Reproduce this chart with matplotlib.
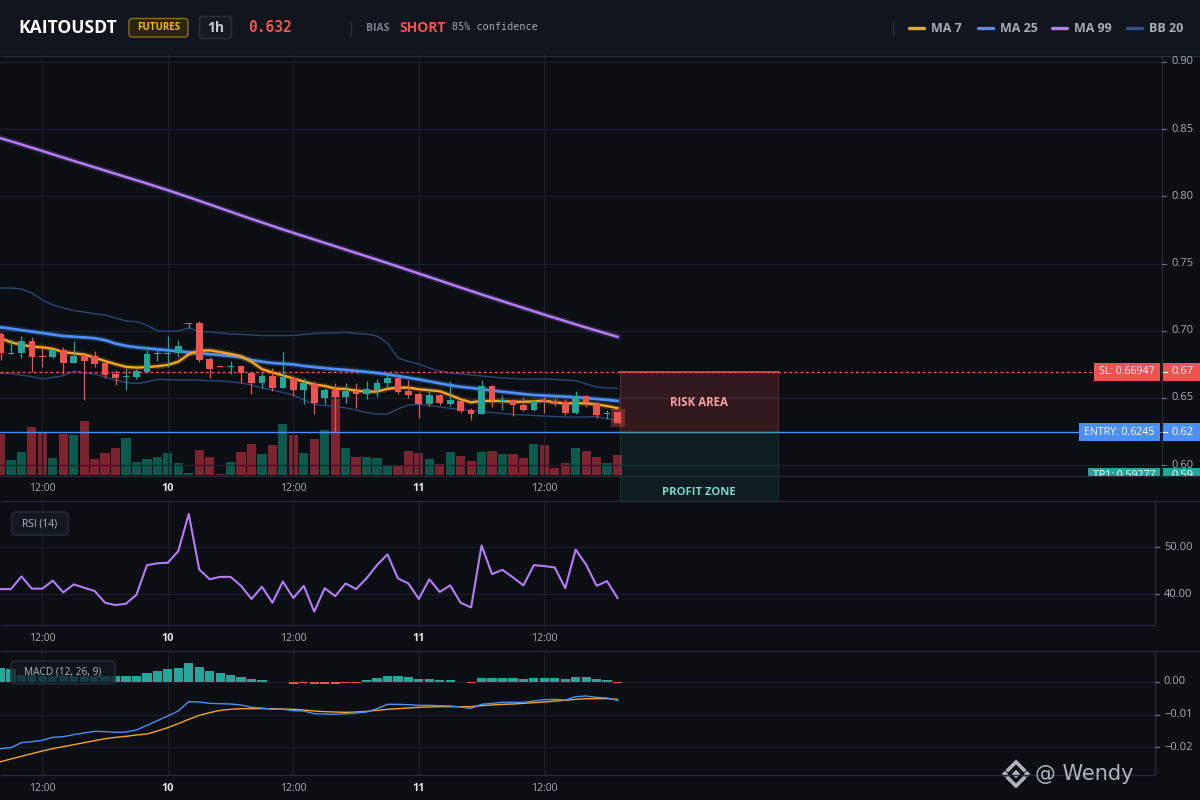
import matplotlib
matplotlib.use("Agg")
import matplotlib.pyplot as plt
import matplotlib.patheffects as pe
import matplotlib.transforms as mtransforms
from matplotlib.patches import Rectangle, FancyBboxPatch, Polygon
import numpy as np

# ---------------- data ----------------
symbol = "KAITOUSDT"
market = "FUTURES"
interval = "1h"
last_price = 0.632
bias = "SHORT"
confidence = 85

opens = [0.6976, 0.6830, 0.6837, 0.6924, 0.6812, 0.6808, 0.6857, 0.6763, 0.6815, 0.6810,
         0.6763, 0.6679, 0.6656, 0.6656, 0.6696, 0.6825, 0.6830, 0.6832, 0.7053, 0.7058,
         0.6790, 0.6738, 0.6731, 0.6738, 0.6689, 0.6614, 0.6664, 0.6577, 0.6646, 0.6562,
         0.6607, 0.6503, 0.6560, 0.6510, 0.6552, 0.6528, 0.6560, 0.6612, 0.6649, 0.6552,
         0.6530, 0.6455, 0.6522, 0.6453, 0.6480, 0.6411, 0.6384, 0.6589, 0.6475, 0.6485,
         0.6448, 0.6411, 0.6480, 0.6478, 0.6468, 0.6391, 0.6515, 0.6458, 0.6381, 0.6394]
highs = [0.6989, 0.6939, 0.6961, 0.6954, 0.6877, 0.6862, 0.6877, 0.6924, 0.6832, 0.6850,
         0.6770, 0.6706, 0.6726, 0.6713, 0.6857, 0.6870, 0.6961, 0.6934, 0.7061, 0.7073,
         0.6805, 0.6741, 0.6775, 0.6746, 0.6696, 0.6689, 0.6721, 0.6840, 0.6656, 0.6646,
         0.6627, 0.6577, 0.6609, 0.6609, 0.6609, 0.6627, 0.6639, 0.6671, 0.6659, 0.6634,
         0.6542, 0.6572, 0.6532, 0.6627, 0.6493, 0.6428, 0.6634, 0.6597, 0.6523, 0.6493,
         0.6510, 0.6485, 0.6510, 0.6498, 0.6493, 0.6552, 0.6522, 0.6468, 0.6411, 0.6399]
lows = [0.6783, 0.6825, 0.6800, 0.6696, 0.6733, 0.6795, 0.6676, 0.6758, 0.6488, 0.6731,
        0.6651, 0.6599, 0.6562, 0.6639, 0.6684, 0.6778, 0.6733, 0.6808, 0.7018, 0.6770,
        0.6651, 0.6728, 0.6681, 0.6612, 0.6532, 0.6572, 0.6552, 0.6572, 0.6515, 0.6453,
        0.6378, 0.6453, 0.6250, 0.6465, 0.6428, 0.6490, 0.6510, 0.6572, 0.6530, 0.6498,
        0.6354, 0.6443, 0.6448, 0.6441, 0.6391, 0.6336, 0.6381, 0.6436, 0.6411, 0.6369,
        0.6406, 0.6403, 0.6391, 0.6441, 0.6374, 0.6384, 0.6436, 0.6354, 0.6341, 0.6312]
closes = [0.6837, 0.6832, 0.6924, 0.6808, 0.6808, 0.6855, 0.6763, 0.6813, 0.6778, 0.6753,
          0.6671, 0.6651, 0.6661, 0.6701, 0.6825, 0.6837, 0.6835, 0.6884, 0.7058, 0.6783,
          0.6718, 0.6733, 0.6736, 0.6689, 0.6614, 0.6664, 0.6577, 0.6656, 0.6562, 0.6612,
          0.6465, 0.6560, 0.6510, 0.6555, 0.6528, 0.6567, 0.6612, 0.6649, 0.6547, 0.6522,
          0.6455, 0.6522, 0.6460, 0.6485, 0.6406, 0.6384, 0.6589, 0.6485, 0.6480, 0.6448,
          0.6411, 0.6478, 0.6475, 0.6458, 0.6391, 0.6515, 0.6468, 0.6374, 0.6386, 0.6317]
volumes = [123, 45, 69, 144, 128, 51, 123, 120, 162, 48,
           66, 81, 111, 39, 48, 54, 66, 36, 6, 75,
           54, 3, 39, 69, 93, 63, 90, 153, 120, 66,
           108, 135, 252, 81, 54, 54, 51, 30, 30, 72,
           66, 48, 33, 69, 57, 42, 69, 72, 63, 63,
           51, 93, 90, 21, 36, 81, 72, 54, 36, 60]
ma7 = [0.6944, 0.6915, 0.6895, 0.6883, 0.6877, 0.6866, 0.6842, 0.6832, 0.6824, 0.6800,
       0.6775, 0.6752, 0.6732, 0.6726, 0.6730, 0.6736, 0.6746, 0.6770, 0.6825, 0.6852,
       0.6855, 0.6842, 0.6828, 0.6810, 0.6770, 0.6715, 0.6690, 0.6668, 0.6645, 0.6622,
       0.6600, 0.6590, 0.6570, 0.6567, 0.6555, 0.6547, 0.6548, 0.6568, 0.6577, 0.6577,
       0.6565, 0.6558, 0.6550, 0.6522, 0.6490, 0.6468, 0.6478, 0.6478, 0.6478, 0.6472,
       0.6472, 0.6475, 0.6480, 0.6468, 0.6460, 0.6462, 0.6460, 0.6453, 0.6440, 0.6425]
ma25 = [0.7026, 0.7016, 0.7005, 0.6994, 0.6984, 0.6972, 0.6961, 0.6956, 0.6951, 0.6945,
        0.6930, 0.6905, 0.6888, 0.6877, 0.6870, 0.6862, 0.6855, 0.6848, 0.6840, 0.6832,
        0.6826, 0.6820, 0.6812, 0.6803, 0.6782, 0.6770, 0.6760, 0.6755, 0.6750, 0.6738,
        0.6730, 0.6722, 0.6715, 0.6709, 0.6702, 0.6694, 0.6686, 0.6675, 0.6663, 0.6651,
        0.6638, 0.6624, 0.6609, 0.6595, 0.6583, 0.6575, 0.6565, 0.6555, 0.6547, 0.6538,
        0.6530, 0.6522, 0.6518, 0.6514, 0.6510, 0.6505, 0.6499, 0.6493, 0.6486, 0.6478]
ma99 = [0.8433, 0.8410, 0.8386, 0.8362, 0.8338, 0.8313, 0.8289, 0.8264, 0.8240, 0.8216,
        0.8192, 0.8168, 0.8144, 0.8120, 0.8096, 0.8071, 0.8046, 0.8020, 0.7994, 0.7967,
        0.7940, 0.7913, 0.7886, 0.7859, 0.7832, 0.7806, 0.7780, 0.7754, 0.7729, 0.7704,
        0.7679, 0.7654, 0.7629, 0.7604, 0.7579, 0.7554, 0.7529, 0.7504, 0.7478, 0.7452,
        0.7426, 0.7400, 0.7374, 0.7348, 0.7322, 0.7296, 0.7270, 0.7245, 0.7220, 0.7195,
        0.7170, 0.7145, 0.7120, 0.7096, 0.7072, 0.7048, 0.7024, 0.7001, 0.6978, 0.6955]
bb_upper = [0.7318, 0.7318, 0.7311, 0.7281, 0.7229, 0.7192, 0.7170, 0.7150, 0.7140, 0.7125,
            0.7118, 0.7095, 0.7073, 0.7068, 0.7043, 0.6999, 0.6995, 0.6999, 0.7021, 0.6995,
            0.6991, 0.6984, 0.6976, 0.6973, 0.6969, 0.6964, 0.6964, 0.6964, 0.6964, 0.6973,
            0.6980, 0.6984, 0.6984, 0.6989, 0.6980, 0.6976, 0.6961, 0.6909, 0.6798, 0.6772,
            0.6753, 0.6723, 0.6701, 0.6686, 0.6679, 0.6671, 0.6664, 0.6656, 0.6649, 0.6645,
            0.6641, 0.6641, 0.6641, 0.6638, 0.6634, 0.6629, 0.6604, 0.6582, 0.6574, 0.6572]
bb_lower = [0.6684, 0.6682, 0.6669, 0.6660, 0.6641, 0.6653, 0.6666, 0.6701, 0.6686, 0.6679,
            0.6656, 0.6634, 0.6615, 0.6608, 0.6619, 0.6639, 0.6636, 0.6634, 0.6634, 0.6632,
            0.6629, 0.6627, 0.6621, 0.6612, 0.6597, 0.6574, 0.6560, 0.6541, 0.6522, 0.6485,
            0.6455, 0.6444, 0.6437, 0.6426, 0.6411, 0.6392, 0.6381, 0.6381, 0.6418, 0.6448,
            0.6452, 0.6444, 0.6433, 0.6423, 0.6414, 0.6407, 0.6400, 0.6392, 0.6385, 0.6377,
            0.6374, 0.6370, 0.6366, 0.6362, 0.6359, 0.6357, 0.6359, 0.6361, 0.6347, 0.6331]
rsi = [41.1, 41.1, 43.8, 41.2, 41.2, 42.9, 40.4, 42.1, 41.4, 40.7,
       38.2, 37.7, 38.0, 39.9, 46.2, 46.6, 46.7, 49.2, 57.1, 45.3,
       43.2, 43.7, 43.7, 41.8, 39.0, 41.6, 38.2, 42.7, 39.2, 41.8,
       36.3, 41.3, 39.6, 42.3, 41.1, 43.4, 46.2, 48.5, 43.4, 42.3,
       39.0, 43.2, 40.5, 41.9, 38.2, 37.2, 50.4, 44.3, 45.2, 43.6,
       41.9, 46.2, 46.0, 45.7, 41.3, 49.5, 46.3, 41.8, 42.8, 39.2]
macd_line = [-0.02043, -0.02011, -0.01859, -0.01828, -0.01788, -0.01696, -0.01676, -0.01615, -0.01564, -0.01513,
             -0.01523, -0.01544, -0.01534, -0.01473, -0.01330, -0.01188, -0.01046, -0.00893, -0.00609, -0.00619,
             -0.00660, -0.00670, -0.00680, -0.00710, -0.00781, -0.00802, -0.00842, -0.00842, -0.00883, -0.00893,
             -0.00975, -0.00985, -0.00995, -0.00975, -0.00954, -0.00924, -0.00822, -0.00690, -0.00690, -0.00700,
             -0.00721, -0.00721, -0.00731, -0.00741, -0.00771, -0.00812, -0.00690, -0.00660, -0.00629, -0.00629,
             -0.00629, -0.00588, -0.00548, -0.00538, -0.00558, -0.00456, -0.00436, -0.00477, -0.00497, -0.00568]
macd_signal = [-0.02438, -0.02357, -0.02275, -0.02194, -0.02113, -0.02042, -0.01981, -0.01920, -0.01859, -0.01798,
               -0.01737, -0.01697, -0.01666, -0.01625, -0.01595, -0.01503, -0.01401, -0.01279, -0.01147, -0.01025,
               -0.00944, -0.00873, -0.00842, -0.00822, -0.00822, -0.00822, -0.00822, -0.00832, -0.00842, -0.00863,
               -0.00893, -0.00913, -0.00924, -0.00934, -0.00924, -0.00903, -0.00873, -0.00842, -0.00822, -0.00802,
               -0.00781, -0.00771, -0.00761, -0.00761, -0.00761, -0.00761, -0.00731, -0.00710, -0.00690, -0.00680,
               -0.00660, -0.00639, -0.00619, -0.00589, -0.00568, -0.00538, -0.00517, -0.00517, -0.00517, -0.00538]
macd_hist = [0.00407, 0.00386, 0.00200, 0.00190, 0.00180, 0.00170, 0.00165, 0.00160, 0.00160, 0.00160,
             0.00160, 0.00163, 0.00163, 0.00183, 0.00264, 0.00325, 0.00386, 0.00427, 0.00569, 0.00457,
             0.00335, 0.00264, 0.00203, 0.00142, 0.00071, 0.00061, -0.00020, -0.00020, -0.00081, -0.00041,
             -0.00081, -0.00061, -0.00061, -0.00041, -0.00030, 0.00041, 0.00112, 0.00173, 0.00173, 0.00142,
             0.00081, 0.00081, 0.00051, 0.00051, -0.00015, -0.00030, 0.00112, 0.00112, 0.00112, 0.00112,
             0.00081, 0.00112, 0.00112, 0.00112, 0.00081, 0.00142, 0.00142, 0.00081, 0.00051, -0.00030]

time_tick_idx = [4, 16, 28, 40, 52]
time_tick_labels = ["12:00", "10", "12:00", "11", "12:00"]
price_ticks = [0.60, 0.65, 0.70, 0.75, 0.80, 0.85, 0.90]
rsi_ticks = [40, 50]
macd_ticks = [0.0, -0.01, -0.02]

sl_price = 0.66947
entry_price = 0.6245
tp1_price = 0.59277

legend_names = ["MA 7", "MA 25", "MA 99", "BB 20"]

# ---------------- style ----------------
BG = "#0b0e13"
HEADER_BG = "#11151d"
GRID = "#1a202b"
BORDER = "#252c38"
UP = "#26a69a"
DN = "#ef5350"
VOL_UP = "#0d5a4c"
VOL_DN = "#7e2330"
C_MA7 = "#f5a524"
C_MA25 = "#4d8ff5"
C_MA99 = "#b57cf6"
C_BB = "#2a4675"
C_RSI = "#b57cf6"
C_ENTRY = "#4d8ef7"
TXT = "#a9aeb8"

W, H = 1200, 800
PX = 10.458  # pixels per candle
SANS = ["Open Sans", "DejaVu Sans"]
MONO = ["DejaVu Sans Mono"]

fig = plt.figure(figsize=(W / 100, H / 100), dpi=100, facecolor=BG)


def rect_px(x0, y0, x1, y1):
    return [x0 / W, 1 - y1 / H, (x1 - x0) / W, (y1 - y0) / H]


def xl(width_px):
    return (-0.5 / PX, (width_px - 0.5) / PX)


def clean(a):
    a.set_xticks([])
    a.set_yticks([])
    for s in a.spines.values():
        s.set_visible(False)


n = len(closes)
xs = np.arange(n)
o = np.array(opens); c = np.array(closes); h = np.array(highs); lo = np.array(lows)
up = c >= o
cols = np.where(up, UP, DN)
vcols = np.where(up, VOL_UP, VOL_DN)

MAIN = (0, 55, 1162, 475)
YL_MAIN = (0.5927, 0.9052)

# volume axes (below price)
vax = fig.add_axes(rect_px(*MAIN))
vax.set_facecolor(BG)
clean(vax)
vax.set_xlim(xl(1162))
vax.set_ylim(0, 1260)
vax.bar(xs, volumes, width=0.88, color=vcols, zorder=2)

# price axes
ax = fig.add_axes(rect_px(*MAIN))
ax.set_facecolor("none")
clean(ax)
ax.set_xlim(xl(1162))
ax.set_ylim(*YL_MAIN)
for p in price_ticks:
    ax.axhline(p, color=GRID, lw=0.9, zorder=1)
for t in time_tick_idx:
    ax.axvline(t, color=GRID, lw=0.9, zorder=1)

ax.plot(xs, bb_upper, color=C_BB, lw=1.0, zorder=3)
ax.plot(xs, bb_lower, color=C_BB, lw=1.0, zorder=3)


def glow(col, w):
    return [pe.Stroke(linewidth=w + 2.5, foreground=col, alpha=0.18), pe.Normal()]


ax.plot(xs, ma99, color=C_MA99, lw=1.8, zorder=4, path_effects=glow(C_MA99, 1.8))
ax.plot(xs, ma25, color=C_MA25, lw=2.0, zorder=4, path_effects=glow(C_MA25, 2.0))
ax.plot(xs, ma7, color=C_MA7, lw=1.7, zorder=4, path_effects=glow(C_MA7, 1.7))

# candles
ax.vlines(xs, lo, h, colors=cols, lw=0.9, zorder=5)
body_bot = np.minimum(o, c)
body_h = np.maximum(np.abs(c - o), 0.0008)
bars = ax.bar(xs, body_h, bottom=body_bot, width=0.64, color=cols, zorder=6, linewidth=0)
bars[-1].set_path_effects([pe.Stroke(linewidth=5, foreground=DN, alpha=0.35), pe.Normal()])

# SL / entry lines
ax.axhline(sl_price, color=DN, lw=1.0, ls=(0, (2, 2)), zorder=3)
ax.axhline(entry_price, color=C_ENTRY, lw=1.0, zorder=3)

# risk / profit zones
zx0 = n - 1 + 0.25
zw = 15.1
ax.add_patch(Rectangle((zx0, entry_price), zw, sl_price - entry_price,
                       facecolor=(0.937, 0.325, 0.314, 0.17), edgecolor=(0.937, 0.325, 0.314, 0.30),
                       lw=0.8, zorder=7))
ax.plot([zx0, zx0 + zw], [sl_price, sl_price], color=DN, lw=1.4, alpha=0.75, zorder=8)
profit_low = ax.transData.inverted().transform((0, H - 501))[1]
ax.add_patch(Rectangle((zx0, profit_low), zw, entry_price - profit_low,
                       facecolor=(0.149, 0.651, 0.604, 0.10), edgecolor=(0.149, 0.651, 0.604, 0.22),
                       lw=0.8, zorder=7, clip_on=False))
ax.plot([zx0, zx0 + zw], [entry_price, entry_price], color=UP, lw=1.0, alpha=0.6, zorder=8)
ax.text(zx0 + zw / 2, (sl_price + entry_price) / 2, "RISK AREA", color="#f5a3a3",
        fontsize=8.3, fontweight="bold", ha="center", va="center", family=SANS, zorder=9)

# RSI axes
RSI_R = (0, 501.7, 1155, 625.3)
rax = fig.add_axes(rect_px(*RSI_R))
rax.set_facecolor(BG)
clean(rax)
rax.set_xlim(xl(1155))
rax.set_ylim(33.4, 59.7)
for v in rsi_ticks:
    rax.axhline(v, color=GRID, lw=0.9)
for t in time_tick_idx:
    rax.axvline(t, color=GRID, lw=0.9)
rax.plot(xs, rsi, color=C_RSI, lw=1.5, zorder=3)

# MACD axes
MACD_R = (0, 651.7, 1155, 775.3)
max_ = fig.add_axes(rect_px(*MACD_R))
max_.set_facecolor(BG)
clean(max_)
max_.set_xlim(xl(1155))
max_.set_ylim(-0.02854, 0.00915)
for v in macd_ticks:
    max_.axhline(v, color=GRID, lw=0.9)
for t in time_tick_idx:
    max_.axvline(t, color=GRID, lw=0.9)
hist = np.array(macd_hist)
max_.bar(xs, hist, width=0.88, color=np.where(hist >= 0, UP, DN), zorder=2)
max_.plot(xs, macd_signal, color=C_MA7, lw=1.0, zorder=3)
max_.plot(xs, macd_line, color=C_MA25, lw=1.0, zorder=4)

# ---------------- overlay in pixel coordinates ----------------
ov = fig.add_axes([0, 0, 1, 1], facecolor="none", zorder=20)
ov.set_xlim(0, W)
ov.set_ylim(H, 0)
ov.axis("off")


def py(a, v):
    return H - a.transData.transform((0, v))[1]


def px(a, i):
    return a.transData.transform((i, 0))[0]


def hline(y, x0=0, x1=W, col=BORDER, lw=0.9):
    ov.plot([x0, x1], [y, y], color=col, lw=lw, solid_capstyle="butt")


def vline(x, y0, y1, col=BORDER, lw=0.9):
    ov.plot([x, x], [y0, y1], color=col, lw=lw, solid_capstyle="butt")


# header
ov.add_patch(Rectangle((0, 0), W, 55, facecolor=HEADER_BG, edgecolor="none"))
hline(55.5)
ov.text(18, 28, symbol, color="white", fontsize=12.6, fontweight="bold", va="center", ha="left", family=SANS)
ov.add_patch(FancyBboxPatch((129, 18.5), 59, 18.5, boxstyle="round,pad=0,rounding_size=3",
                            facecolor="#2a2413", edgecolor="#8a6d1f", lw=1))
ov.text(158.5, 28, market, color="#f0b90b", fontsize=7, fontweight="bold", ha="center", va="center", family=SANS)
ov.add_patch(FancyBboxPatch((199.5, 16.5), 32, 22, boxstyle="round,pad=0,rounding_size=3",
                            facecolor="#151a23", edgecolor="#2a303c", lw=1))
ov.text(215.5, 28, interval, color="#c4c8d0", fontsize=10, fontweight="bold", ha="center", va="center", family=SANS)
ov.text(248, 28, f"{last_price:.3f}", color=DN, fontsize=10.5, fontweight="bold", ha="left", va="center", family=MONO)
vline(350.5, 20.5, 35.5, col="#2a303c")
ov.text(366, 28.5, "BIAS", color="#7b8290", fontsize=7.6, fontweight="bold", ha="left", va="center", family=SANS)
ov.text(399.5, 28, bias, color=DN, fontsize=10, fontweight="bold", ha="left", va="center", family=SANS)
ov.text(451.5, 27, f"{confidence}% confidence", color="#a3a8b3", fontsize=7.3, ha="left", va="center", family=MONO)

# legend
vline(893, 20.5, 35.5, col="#2a303c")
leg_cols = [C_MA7, C_MA25, C_MA99, "#2f5391"]
leg_x = [909, 978, 1052, 1127]
for name, col, lx in zip(legend_names, leg_cols, leg_x):
    ov.plot([lx, lx + 15], [27.7, 27.7], color=col, lw=2.4, solid_capstyle="round")
    ov.text(lx + 22, 28, name, color="#a7acb6", fontsize=9, fontweight="bold", ha="left", va="center", family=SANS)

# panel borders
hline(475.5, 0, W)
vline(1162, 55.5, 475.5)
hline(501, 0, W)
hline(625.3, 0, 1155)
vline(1155, 501, 625.3)
hline(651.3, 0, W)
hline(775.3, 0, 1155)
vline(1155, 651.3, 775.3)

# price tick labels
for p in price_ticks:
    y = py(ax, p)
    if 58 < y < 473:
        ov.plot([1162, 1166], [y, y], color="#6b7280", lw=0.8)
        ov.text(1171, y, f"{p:.2f}", color=TXT, fontsize=8, ha="left", va="center", family=SANS)

# SL label
ysl = py(ax, sl_price)
ov.add_patch(Rectangle((1094, ysl - 9), 66, 18, facecolor=DN, edgecolor="none"))
ov.text(1127, ysl, f"SL: {sl_price:.5f}", color="white", fontsize=7.6, ha="center", va="center", family=SANS)
ov.add_patch(Rectangle((1163, ysl - 9), 37, 18, facecolor=DN, edgecolor="none"))
ov.plot([1163, 1167], [ysl, ysl], color="white", lw=0.8)
ov.text(1171, ysl, f"{sl_price:.2f}", color="white", fontsize=8, ha="left", va="center", family=SANS)

# ENTRY label
yen = py(ax, entry_price)
ov.add_patch(Rectangle((1079, yen - 9), 81, 18, facecolor=C_ENTRY, edgecolor="none"))
ov.text(1119.5, yen, f"ENTRY: {entry_price}", color="white", fontsize=7.6, ha="center", va="center", family=SANS)
ov.add_patch(Rectangle((1163, yen - 9), 37, 18, facecolor=C_ENTRY, edgecolor="none"))
ov.plot([1163, 1167], [yen, yen], color="white", lw=0.8)
ov.text(1171, yen, f"{entry_price:.2f}", color="white", fontsize=8, ha="left", va="center", family=SANS)

# TP1 label (cut by panel bottom)
clipbb = mtransforms.TransformedBbox(mtransforms.Bbox([[0, 1 - 475.5 / H], [1, 1 - 55 / H]]), fig.transFigure)
ytp = py(ax, tp1_price)
arts = [
    ov.add_patch(Rectangle((1088, ytp - 7), 72, 16, facecolor=UP, edgecolor="none")),
    ov.add_patch(Rectangle((1163, ytp - 7), 37, 16, facecolor=UP, edgecolor="none")),
    ov.text(1124, ytp + 1, f"TP1: {tp1_price:.5f}", color="white", fontsize=7.6, ha="center", va="center", family=SANS),
    ov.text(1171, ytp + 1, f"{tp1_price:.2f}", color="white", fontsize=8, ha="left", va="center", family=SANS),
]
for a_ in arts:
    a_.set_clip_box(clipbb)
    a_.set_clip_on(True)

# PROFIT ZONE label
zcx = (px(ax, zx0) + px(ax, zx0 + zw)) / 2
ov.text(zcx, 492.5, "PROFIT ZONE", color="#7dd6ca", fontsize=8.1, fontweight="bold", ha="center", va="center", family=SANS)

# time labels
for a_, ylab in [(ax, 488.5), (rax, 638.5), (max_, 788.5)]:
    for t, lab in zip(time_tick_idx, time_tick_labels):
        bold = lab not in ("12:00",)
        ov.text(px(a_, t), ylab, lab, color="#e3e6ea" if bold else TXT, fontsize=7.8 if bold else 7.5,
                fontweight="bold" if bold else "normal", ha="center", va="center", family=SANS)

# RSI labels
for v in rsi_ticks:
    y = py(rax, v)
    ov.plot([1155, 1159], [y, y], color="#6b7280", lw=0.8)
    ov.text(1164, y, f"{v:.2f}", color=TXT, fontsize=8, ha="left", va="center", family=SANS)
ov.add_patch(FancyBboxPatch((12, 512), 56, 23, boxstyle="round,pad=0,rounding_size=4",
                            facecolor="#121720", edgecolor="#272d38", lw=1))
ov.text(40, 523.5, "RSI (14)", color="#b4b8c0", fontsize=7.3, ha="center", va="center", family=SANS)

# MACD labels
for v in macd_ticks:
    y = py(max_, v)
    ov.plot([1155, 1159], [y, y], color="#6b7280", lw=0.8)
    ov.text(1164, y, f"{v:.2f}".replace("-", "\u2212"), color=TXT, fontsize=8, ha="left", va="center", family=SANS)
ov.add_patch(FancyBboxPatch((11, 661), 104, 23, boxstyle="round,pad=0,rounding_size=4",
                            facecolor=(0.07, 0.09, 0.12, 0.75), edgecolor="#272d38", lw=1))
ov.text(63, 672.5, "MACD (12, 26, 9)", color="#b4b8c0", fontsize=7.3, ha="center", va="center", family=SANS)

# watermark
WM = (0.85, 0.87, 0.9, 0.8)
cx, cy = 1016, 774
ov.plot([cx - 8, cx, cx + 8], [cy - 4, cy - 12, cy - 4], color=WM, lw=2.6, solid_joinstyle="miter")
ov.plot([cx - 8, cx, cx + 8], [cy + 4, cy + 12, cy + 4], color=WM, lw=2.6, solid_joinstyle="miter")
for dx, s in [(-11, 3.2), (11, 3.2), (0, 4.2)]:
    ov.add_patch(Polygon([(cx + dx, cy - s), (cx + dx + s, cy), (cx + dx, cy + s), (cx + dx - s, cy)],
                         closed=True, facecolor=WM, edgecolor="none"))
ov.text(1035, 774, "@ Wendy", color=WM, fontsize=15, ha="left", va="center", family=["DejaVu Sans"])

fig.savefig("out.png", dpi=100, facecolor=BG)
